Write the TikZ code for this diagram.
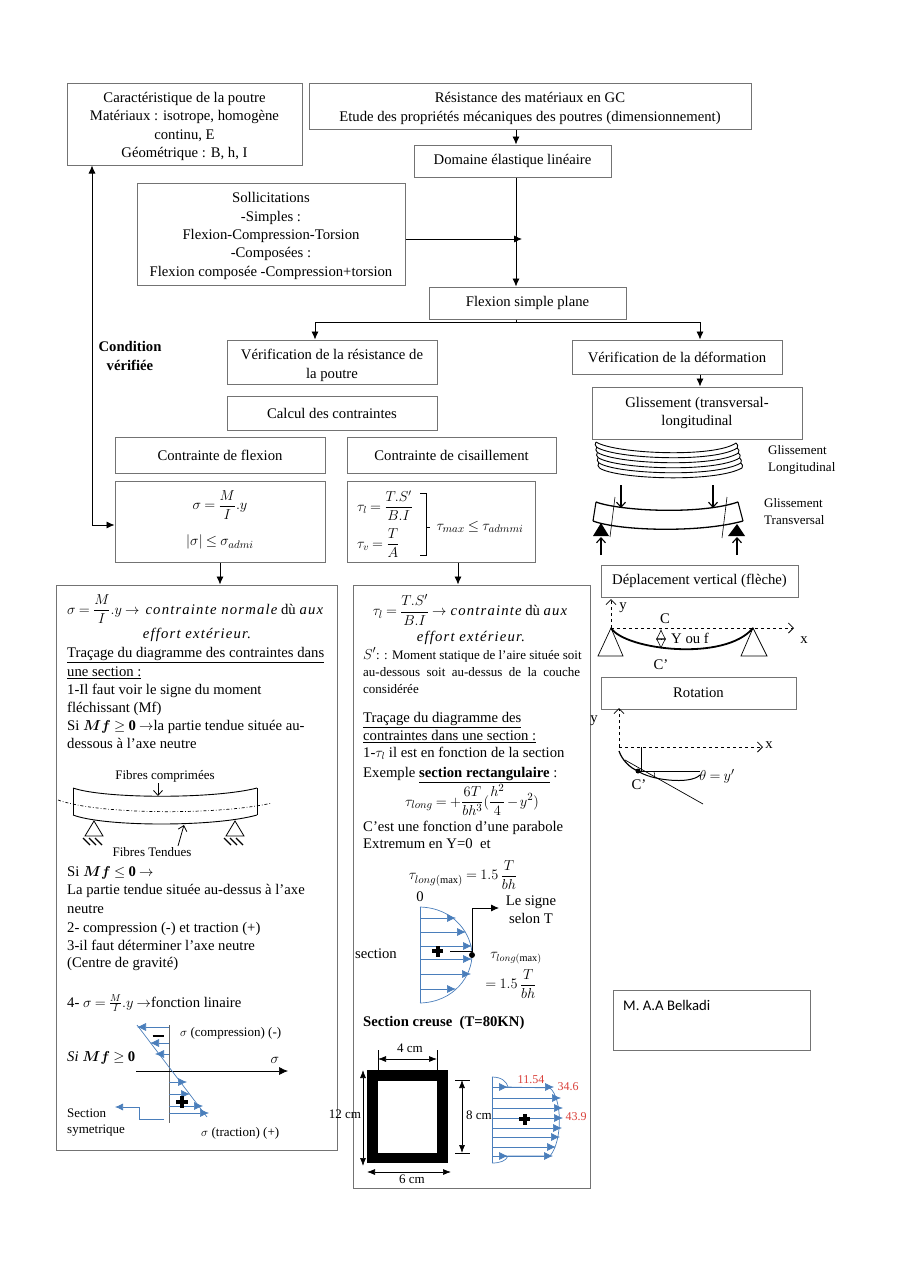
\documentclass[tikz,border=0pt]{standalone}
\usepackage{amsmath}
\usepackage{fontspec}
\setmainfont{Liberation Serif}
\newfontfamily\itl[LetterSpace=8]{Liberation Serif}
\newfontfamily\carlito{Carlito}
\usetikzlibrary{arrows.meta}
\definecolor{bleuc}{HTML}{4A7EBB}
\definecolor{rougec}{HTML}{D9403A}
\thickmuskip=4mu\relax
\medmuskip=2mu\relax
\newcommand{\fs}{\fontsize{14.7}{18.3}\selectfont}
\newcommand{\fl}{\fontsize{13}{17}\selectfont}
\newcommand{\fm}{\fontsize{15}{19}\selectfont}
\newcommand{\txm}[1]{{\itl\itshape #1}}
\newcommand{\hb}[1]{\rule{0pt}{#1pt}}
\newcommand{\plusg}[2]{\rlap{\rule[#1pt]{#2pt}{3.6pt}}\hspace{\dimexpr #2pt/2 - 1.8pt\relax}\rule{3.6pt}{#2pt}\hspace{\dimexpr #2pt/2 - 1.8pt\relax}}
\tikzstyle{box}=[draw=black!55,line width=1pt,align=center,inner sep=0pt,font=\fs]
\tikzstyle{edge}=[draw,line width=0.8pt,-{Latex[length=8pt,width=7pt]}]
\tikzstyle{ligne}=[anchor=base west,inner sep=0pt,font=\fs]
\tikzstyle{libel}=[inner sep=0pt,font=\fl,align=center]
\tikzstyle{repere}=[draw,line width=0.8pt,dashed,-{Straight Barb[length=5pt,width=10pt]}]
\tikzstyle{barbe}=[draw,line width=0.8pt,-{Straight Barb[length=5pt,width=9pt]}]
\tikzstyle{stress}=[draw=bleuc,line width=0.6pt,-{Latex[length=9pt,width=8pt]}]
\tikzstyle{courbe}=[draw=bleuc,line width=0.7pt]
\tikzstyle{cote}=[draw,line width=0.7pt,{Latex[length=8pt,width=6pt]}-{Latex[length=8pt,width=6pt]}]
\begin{document}
\begin{tikzpicture}[x=1pt,y=-1pt]
        \useasboundingbox (0,0) rectangle (905,1280);
        % organigramme
        \node[box,minimum width=235,minimum height=82] (carac) at (184.5,124) {\hb{15}Caractéristique de la poutre\\Matériaux : isotrope, homogène\\continu, E\\Géométrique : B, h, I};
        \node[box,minimum width=442,minimum height=46] (resis) at (530,106) {\hb{15}Résistance des matériaux en GC\\Etude des propriétés mécaniques des poutres (dimensionnement)};
        \node[box,minimum width=197,minimum height=32] (elast) at (512.5,161) {Domaine élastique linéaire};
        \node[box,minimum width=268,minimum height=102] (sollic) at (271,234) {\hb{14}Sollicitations\\-Simples :\\Flexion-Compression-Torsion\\-Composées :\\Flexion composée -Compression+torsion};
        \node[box,minimum width=197,minimum height=32] (flexion) at (527.5,303) {Flexion simple plane};
        \node[box,minimum width=210,minimum height=44] (verifr) at (332,362) {\hb{17}Vérification de la résistance de\\la poutre};
        \node[box,minimum width=210,minimum height=34] (calcul) at (332,413) {Calcul des contraintes};
        \node[box,minimum width=210,minimum height=34] (verifd) at (677,357) {Vérification de la déformation};
        \node[box,minimum width=210,minimum height=52] (gliss) at (697,413) {Glissement (transversal-\\longitudinal};
        \node[box,minimum width=210,minimum height=36] (cflex) at (220,455) {Contrainte de flexion};
        \node[box,minimum width=209,minimum height=36] (ccis) at (451.5,455) {Contrainte de cisaillement};
        \node[box,minimum width=210,minimum height=81] (sigma) at (220,521.5) {};
        \node[box,minimum width=188,minimum height=81] (tau) at (441,521.5) {};
        \node[box,minimum width=281,minimum height=565] (gauche) at (196.5,867.5) {};
        \node[box,minimum width=237,minimum height=603] (milieu) at (471.5,886.5) {};
        \node[box,minimum width=197,minimum height=32] (depl) at (699.5,581) {Déplacement vertical (flèche)};
        \node[box,minimum width=195,minimum height=32] (rot) at (698.5,693) {Rotation};
        \node[box,minimum width=197,minimum height=60] (auteur) at (711.5,1020) {};
        \node[ligne,font=\fontsize{14.7}{18}\selectfont\carlito] (auteurt) at (623,1010) {M. A.A Belkadi};
        \node[font=\fs\bfseries,align=center,inner sep=0pt] (cond) at (130,356) {Condition\\vérifiée};
        % connecteurs
        \coordinate (axe) at (516,0);
        \coordinate (axeg) at (315,0);
        \coordinate (axed) at (700,0);
        \coordinate (axep) at (92,525);
        \coordinate (jonct) at (522,239);
        \coordinate (fourche) at (516,322);
        \coordinate (axet) at (458,0);
        \path[edge] (resis.south -| axe) -- (elast.north -| axe);
        \path[edge] (elast.south -| axe) -- (flexion.north -| axe);
        \path[edge] (sollic.east |- jonct) -- (jonct);
        \path[edge,-] (flexion.south -| axe) -- (fourche);
        \path[edge] (fourche) -| (verifr.north -| axeg);
        \path[edge] (fourche) -| (verifd.north -| axed);
        \path[edge] (verifd.south -| axed) -- (gliss.north -| axed);
        \path[edge,{Latex[length=8pt,width=7pt]}-{Latex[length=8pt,width=7pt]}] (carac.south -| axep) -- (axep) -- (sigma.west |- axep);
        \path[edge] (sigma.south) -- (gauche.north -| sigma.south);
        \path[edge] (tau.south -| axet) -- (milieu.north -| axet);
        % formules des petites boites
        \node[inner sep=0pt,font=\fm] (sigf) at (220,505) {$\sigma=\dfrac{M}{I}.y$};
        \node[inner sep=0pt,font=\fm] (sigc) at (220,542) {$|\sigma|\leq\sigma_{admi}$};
        \node[ligne] (taua) at (357,511) {$\tau_l=\dfrac{T.S'}{B.I}$};
        \node[ligne] (taub) at (357,548) {$\tau_v=\dfrac{T}{A}$};
        \node[inner sep=0pt,font=\fm] (tauc) at (480,527) {$\tau_{max}\leq\tau_{admmi}$};
        \coordinate (acca) at (420,493);
        \coordinate (accb) at (426,493);
        \coordinate (accc) at (426,555);
        \coordinate (accd) at (420,555);
        \draw[line width=0.6pt] (acca) -- (accb) -- (accc) -- (accd);
        \draw[line width=0.6pt] (426,527) -- (430,527);
        % colonne de gauche
        \node[ligne] (g1) at (67,614) {{\fm$\sigma=\dfrac{M}{I}.y\rightarrow$}\hspace{6pt}\txm{contrainte normale} dù \txm{aux}};
        \node[inner sep=0pt,anchor=base,font=\fs] (g2) at (197,638) {\txm{effort extérieur.}};
        \node[ligne] (g3) at (67,657) {\underline{Traçage du diagramme des contraintes dans}};
        \node[ligne] (g4) at (67,676) {\underline{une section :}};
        \node[ligne] (g5) at (67,694) {1-Il faut voir le signe du moment};
        \node[ligne] (g6) at (67,712) {fléchissant (Mf)};
        \node[ligne] (g7) at (67,730) {Si $\boldsymbol{Mf}\geq\mathbf{0}\rightarrow$la partie tendue située au-};
        \node[ligne] (g8) at (67,748) {dessous à l’axe neutre};
        \node[libel,anchor=base] (compr) at (165,779) {Fibres comprimées};
        \node[libel,anchor=base] (tend) at (152,856) {Fibres Tendues};
        \node[ligne] (g9) at (67,876) {Si $\boldsymbol{Mf}\leq\mathbf{0}\rightarrow$};
        \node[ligne] (g10) at (67,894) {La partie tendue située au-dessus à l’axe};
        \node[ligne] (g11) at (67,913) {neutre};
        \node[ligne] (g12) at (67,932) {2- compression (-) et traction (+)};
        \node[ligne] (g13) at (67,950) {3-il faut déterminer l’axe neutre};
        \node[ligne] (g14) at (67,967) {(Centre de gravité)};
        \node[ligne] (g15) at (67,1007) {4- $\sigma=\frac{M}{I}.y\rightarrow$fonction linaire};
        \node[ligne] (g16) at (67,1061) {$\mathit{Si}\ \boldsymbol{Mf}\geq\mathbf{0}$};
        \node[libel,anchor=base west] (scomp) at (180,1036) {$\sigma$ (compression) (-)};
        \node[libel,anchor=base west] (strac) at (201,1136) {$\sigma$ (traction) (+)};
        \node[libel,anchor=base,font=\fs] (ssig) at (275,1063) {$\sigma$};
        \node[libel,anchor=base west] (sec1) at (67,1117) {Section};
        \node[libel,anchor=base west] (sec2) at (67,1133) {symetrique};
        % poutre fibres
        \draw[line width=0.9pt] (73,788) .. controls (105,799) and (215,799) .. (257,788);
        \draw[line width=0.9pt] (73,815) .. controls (105,827) and (215,827) .. (257,815);
        \draw[line width=0.9pt] (73,788) -- (73,815);
        \draw[line width=0.9pt] (257,788) -- (257,815);
        \draw[line width=0.7pt,dash dot] (58,800) .. controls (100,815) and (220,815) .. (272,803);
        \foreach \xa in {94,235} {
          \draw[line width=0.8pt] (\xa,821) -- (\xa-9,836) -- (\xa+9,836) -- cycle;
          \foreach \d in {0,6,12} \draw[line width=1.1pt] (\xa-11+\d,838) -- (\xa-4+\d,845);
        }
        \path[barbe] (158,783) -- (158,796);
        \path[barbe] (178,846) -- (184,825);
        % diagramme lineaire
        \draw[draw=black!60,line width=0.8pt] (169,1025) -- (169,1123);
        \draw[line width=0.7pt,-{Latex[length=9pt,width=8pt]}] (136,1071) -- (288,1071);
        \draw[courbe] (137,1025) -- (207,1117);
        \foreach \yv/\xv in {1027/137,1043/150,1054/155,1082/187,1094/190,1106/203,1113/209} \path[stress] (169,\yv) -- (\xv,\yv);
        \node[inner sep=0pt] (moins) at (158,1036) {\rule{11pt}{2.6pt}};
        \node[inner sep=0pt] (plus1) at (180,1102) {\plusg{3.9}{11.4}};
        \draw[bleuc,line width=0.7pt,-{Latex[length=8pt,width=7pt]}] (164,1119) -- (139,1119) -- (139,1107) -- (115,1107);
        % colonne du milieu
        \node[inner sep=0pt,font=\fs] (m1) at (470,610) {{\fm$\tau_l=\dfrac{T.S'}{B.I}\rightarrow$}\hspace{4pt}\txm{contrainte} dù \txm{aux}};
        \node[inner sep=0pt,anchor=base,font=\fs] (m2) at (471,641) {\txm{effort extérieur.}};
        \node[ligne,font=\fl] (m3) at (363,659) {{\fm$S'$}: : Moment statique de l’aire située soit};
        \node[ligne,font=\fl] (m4) at (363,676) {\makebox[217pt][s]{au-dessous soit au-dessus de la couche}};
        \node[ligne,font=\fl] (m5) at (363,693) {considérée};
        \node[ligne] (m6) at (363,722) {\underline{Traçage du diagramme des}};
        \node[ligne] (m7) at (363,740) {\underline{contraintes dans une section :}};
        \node[ligne] (m8) at (363,757) {1-$\tau_l$ il est en fonction de la section};
        \node[ligne] (m9) at (363,777) {Exemple \underline{\textbf{section rectangulaire}} :};
        \node[inner sep=0pt,font=\fm] (m10) at (472,800) {$\tau_{long}=+\dfrac{6T}{bh^3}(\dfrac{h^2}{4}-y^2)$};
        \node[ligne] (m11) at (363,831) {C’est une fonction d’une parabole};
        \node[ligne] (m12) at (363,848) {Extremum en Y=0\ \ et};
        \node[inner sep=0pt,font=\fm] (m13) at (463,875) {$\tau_{long(\mathrm{max})}=1.5\,\dfrac{T}{bh}$};
        \node[libel,font=\fs] (zero) at (420,897) {0};
        \node[libel,font=\fs] (signe) at (531,910) {Le signe\\selon T};
        \node[ligne] (sect) at (355,958) {section};
        \node[inner sep=0pt,font=\fs] (taum) at (516,958) {$\tau_{long(\mathrm{max})}$};
        \node[inner sep=0pt,font=\fm] (taun) at (511,984) {$=1.5\,\dfrac{T}{bh}$};
        % parabole
        \draw[courbe] (420,907) -- (420,1003);
        \draw[courbe] (420,907) .. controls (455,908) and (472,935) .. (472,955) .. controls (472,975) and (455,1002) .. (420,1003);
        \foreach \yv/\xv in {918/456,932/466,946/472,959/472,974/471,989/456} {
          \path[stress] (420,\yv) -- (\xv,\yv);
        }
        \node[inner sep=0pt] (plus2) at (436,951) {\plusg{3.7}{11}};
        \draw[line width=0.6pt] (450,951) -- (472,951);
        \node[circle,fill=black,inner sep=0pt,minimum size=6pt] (pt) at (472,955) {};
        \coordinate (fleche) at (499,908);
        \path[edge] (pt.north) |- (fleche);
        % section creuse
        \node[ligne,font=\fs\bfseries] (creuse) at (363,1026) {Section creuse\ \ (T=80KN)};
        \fill[black] (367,1070) rectangle (448,1163);
        \fill[white] (378,1081) rectangle (437,1153);
        \draw[line width=0.5pt] (378,1050) -- (378,1070);
        \draw[line width=0.5pt] (437,1050) -- (437,1070);
        \draw[line width=0.5pt] (455,1080) -- (470,1080);
        \draw[line width=0.5pt] (455,1153) -- (470,1153);
        \coordinate (c4a) at (378,1059);
        \coordinate (c4b) at (437,1059);
        \coordinate (c6a) at (367,1172);
        \coordinate (c6b) at (451,1172);
        \coordinate (c12a) at (363,1070);
        \coordinate (c12b) at (363,1166);
        \coordinate (c8a) at (462,1080);
        \coordinate (c8b) at (462,1153);
        \path[cote] (c4a) -- (c4b);
        \path[cote] (c6a) -- (c6b);
        \path[cote] (c12a) -- (c12b);
        \path[cote] (c8a) -- (c8b);
        \node[libel] (l4) at (410,1048) {4 cm};
        \node[libel] (l6) at (412,1179) {6 cm};
        \node[libel] (l8) at (479,1115) {8 cm};
        \node[libel] (l12) at (345,1114) {12 cm};
        % repartition section creuse
        \draw[courbe] (492,1077) -- (492,1163);
        \draw[courbe] (492,1077) .. controls (502,1077) and (507,1082) .. (508,1087) -- (550,1088) .. controls (562,1098) and (563,1140) .. (550,1156) -- (508,1156) .. controls (506,1161) and (500,1163) .. (492,1163);
        \foreach \yv/\xv in {1087/508,1087/554,1098/561,1108/563,1118/563,1128/562,1137/560,1147/556,1156/553,1156/508} {
          \path[stress] (492,\yv) -- (\xv,\yv);
        }
        \node[inner sep=0pt] (plus3) at (523,1119) {\plusg{3.7}{11}};
        \node[libel,font=\fontsize{12}{14}\selectfont,text=rougec] (r1) at (531,1080) {11.54};
        \node[libel,font=\fontsize{12}{14}\selectfont,text=rougec] (r2) at (568,1087) {34.6};
        \node[libel,font=\fontsize{12}{14}\selectfont,text=rougec] (r3) at (576,1117) {43.9};
        % glissement longitudinal
        \foreach \i in {0,1,2,3,4,5} {
          \draw[line width=0.9pt] (596+0.7*\i,442+5.2*\i) .. controls (615,454+5*\i) and (715,458+5*\i) .. (736+1.2*\i,443+5*\i);
        }
        \foreach \i in {0,1,2,3,4} {
          \draw[line width=0.9pt] (596+0.7*\i,442+5.2*\i) to[bend right=50] (596.7+0.7*\i,447.2+5.2*\i);
          \draw[line width=0.9pt] (736+1.2*\i,443+5*\i) to[bend left=50] (737.2+1.2*\i,448+5*\i);
        }
        \node[libel,anchor=base west] (gl1) at (768,454) {Glissement};
        \node[libel,anchor=base west] (gl2) at (768,471) {Longitudinal};
        \node[libel,anchor=base west] (gt1) at (764,507) {Glissement};
        \node[libel,anchor=base west] (gt2) at (764,524) {Transversal};
        % glissement transversal
        \draw[line width=1.3pt] (596,502) .. controls (620,511) and (700,515) .. (738,502);
        \draw[line width=1.3pt] (593,521) .. controls (620,531) and (700,533) .. (743,521);
        \draw[line width=1.1pt] (596,502) -- (593,521);
        \draw[line width=1.1pt] (738,502) -- (743,521);
        \draw[line width=0.6pt] (615,497) -- (610,537);
        \draw[line width=0.6pt] (727,497) -- (722,538);
        \path[barbe,line width=1.1pt] (621,485) -- (621,508);
        \path[barbe,line width=1.1pt] (713,485) -- (713,508);
        \fill[black] (601,523) -- (593,536) -- (609,536) -- cycle;
        \fill[black] (737,524) -- (728,536) -- (745,536) -- cycle;
        \path[barbe,line width=1.1pt] (601,555) -- (601,537);
        \path[barbe,line width=1.1pt] (737,555) -- (737,537);
        % fleche
        \draw[line width=0.7pt] (611,628) -- (598,656) -- (623,656) -- cycle;
        \draw[line width=0.7pt] (753,628) -- (741,656) -- (767,656) -- cycle;
        \path[repere] (611,628) -- (611,599);
        \path[repere] (611,628) -- (794,628);
        \draw[line width=1.8pt] (611,628) .. controls (625,650) and (725,662) .. (753,628);
        \draw[line width=0.6pt,{Latex[open,length=10pt,width=10pt]}-{Latex[open,length=10pt,width=10pt]}] (661,629) -- (661,649);
        \node[libel,font=\fs] (ly) at (623,608) {y};
        \node[libel,font=\fs] (lx) at (804,640) {x};
        \node[libel,font=\fs] (lc) at (665,619) {C};
        \node[libel,font=\fs] (lyf) at (690,638) {Y ou f};
        \node[libel,font=\fs] (lcp) at (661,665) {C’};
        % rotation
        \path[repere] (619,747) -- (619,708);
        \path[repere] (619,747) -- (763,747);
        \draw[line width=1.2pt] (619,751) .. controls (622,760) and (630,768) .. (638,771);
        \draw[line width=1pt] (638,771) .. controls (650,780) and (690,785) .. (700,775);
        \draw[line width=0.7pt] (641,747) -- (641,771);
        \draw[line width=0.7pt] (638,771) -- (700,771);
        \draw[line width=0.7pt] (625,760) -- (703,804);
        \draw[line width=0.5pt] (654,772) .. controls (655,774) and (655,775) .. (654,778);
        \fill[black] (638,771) circle (2.5pt);
        \node[libel,font=\fs] (ry) at (594,721) {y};
        \node[libel,font=\fs] (rx) at (769,745) {x};
        \node[libel,font=\fs] (rcp) at (639,785) {C’};
        \node[libel,font=\fm] (rth) at (717,776) {$\theta=y'$};
    \end{tikzpicture}
\end{document}
